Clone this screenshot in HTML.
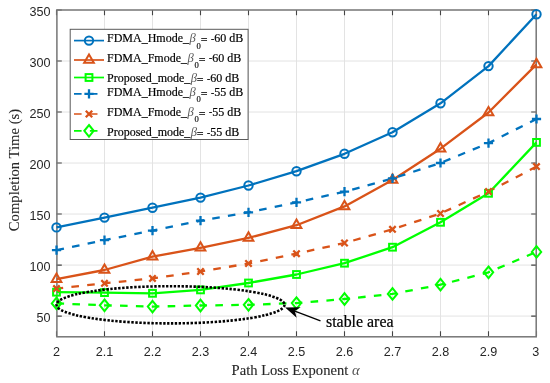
<!DOCTYPE html>
<html><head><meta charset="utf-8"><style>html,body{margin:0;padding:0;background:#fff;}svg{display:block}</style></head>
<body><svg width="550" height="383" viewBox="0 0 550 383"><path d="M104.50 10.0V336.5M152.50 10.0V336.5M200.50 10.0V336.5M248.50 10.0V336.5M296.50 10.0V336.5M344.50 10.0V336.5M392.50 10.0V336.5M440.50 10.0V336.5M488.50 10.0V336.5M56.5 316.09H536.5M56.5 265.08H536.5M56.5 214.06H536.5M56.5 163.05H536.5M56.5 112.03H536.5M56.5 61.02H536.5" stroke="#e3e3e3" stroke-width="1" fill="none"/>
<path d="M56.50 336.5V331.2M56.50 10.0V15.3M104.50 336.5V331.2M104.50 10.0V15.3M152.50 336.5V331.2M152.50 10.0V15.3M200.50 336.5V331.2M200.50 10.0V15.3M248.50 336.5V331.2M248.50 10.0V15.3M296.50 336.5V331.2M296.50 10.0V15.3M344.50 336.5V331.2M344.50 10.0V15.3M392.50 336.5V331.2M392.50 10.0V15.3M440.50 336.5V331.2M440.50 10.0V15.3M488.50 336.5V331.2M488.50 10.0V15.3M536.50 336.5V331.2M536.50 10.0V15.3M56.5 316.09H61.8M536.5 316.09H531.2M56.5 265.08H61.8M536.5 265.08H531.2M56.5 214.06H61.8M536.5 214.06H531.2M56.5 163.05H61.8M536.5 163.05H531.2M56.5 112.03H61.8M536.5 112.03H531.2M56.5 61.02H61.8M536.5 61.02H531.2M56.5 10.00H61.8M536.5 10.00H531.2" stroke="#444" stroke-width="1.1" fill="none"/>
<rect x="56.9" y="10.0" width="479.3" height="326.8" fill="none" stroke="#767676" stroke-width="1.5"/>
<polyline points="56.50,227.40 104.50,217.60 152.50,207.70 200.50,197.60 248.50,185.50 296.50,171.20 344.50,153.80 392.50,132.20 440.50,103.30 488.50,66.10 536.50,14.20" fill="none" stroke="#0072BD" stroke-width="2.3" stroke-linejoin="round"/>
<polyline points="56.50,279.20 104.50,270.00 152.50,256.70 200.50,247.80 248.50,237.90 296.50,225.20 344.50,206.40 392.50,180.00 440.50,148.70 488.50,112.50 536.50,64.40" fill="none" stroke="#D95319" stroke-width="2.3" stroke-linejoin="round"/>
<polyline points="56.50,292.20 104.50,292.60 152.50,293.30 200.50,289.90 248.50,283.00 296.50,274.50 344.50,263.20 392.50,247.20 440.50,222.30 488.50,193.30 536.50,142.40" fill="none" stroke="#00FF00" stroke-width="2.3" stroke-linejoin="round"/>
<polyline points="56.50,250.10 104.50,240.10 152.50,230.60 200.50,220.70 248.50,212.30 296.50,202.40 344.50,191.70 392.50,178.40 440.50,163.00 488.50,143.10 536.50,119.00" fill="none" stroke="#0072BD" stroke-width="2.3" stroke-dasharray="7.6 8.29" stroke-linejoin="round"/>
<polyline points="56.50,288.60 104.50,283.30 152.50,278.40 200.50,271.50 248.50,263.50 296.50,253.70 344.50,243.00 392.50,229.30 440.50,213.50 488.50,191.60 536.50,166.60" fill="none" stroke="#D95319" stroke-width="2.3" stroke-dasharray="7.6 8.29" stroke-dashoffset="0.9" stroke-linejoin="round"/>
<polyline points="56.50,303.40 104.50,305.30 152.50,306.60 200.50,305.50 248.50,304.80 296.50,303.10 344.50,299.00 392.50,293.90 440.50,284.70 488.50,272.30 536.50,251.90" fill="none" stroke="#00FF00" stroke-width="2.3" stroke-dasharray="7.6 8.29" stroke-linejoin="round"/>
<circle cx="56.50" cy="227.40" r="4.2" fill="none" stroke="#0072BD" stroke-width="2.0"/>
<circle cx="104.50" cy="217.60" r="4.2" fill="none" stroke="#0072BD" stroke-width="2.0"/>
<circle cx="152.50" cy="207.70" r="4.2" fill="none" stroke="#0072BD" stroke-width="2.0"/>
<circle cx="200.50" cy="197.60" r="4.2" fill="none" stroke="#0072BD" stroke-width="2.0"/>
<circle cx="248.50" cy="185.50" r="4.2" fill="none" stroke="#0072BD" stroke-width="2.0"/>
<circle cx="296.50" cy="171.20" r="4.2" fill="none" stroke="#0072BD" stroke-width="2.0"/>
<circle cx="344.50" cy="153.80" r="4.2" fill="none" stroke="#0072BD" stroke-width="2.0"/>
<circle cx="392.50" cy="132.20" r="4.2" fill="none" stroke="#0072BD" stroke-width="2.0"/>
<circle cx="440.50" cy="103.30" r="4.2" fill="none" stroke="#0072BD" stroke-width="2.0"/>
<circle cx="488.50" cy="66.10" r="4.2" fill="none" stroke="#0072BD" stroke-width="2.0"/>
<circle cx="536.50" cy="14.20" r="4.2" fill="none" stroke="#0072BD" stroke-width="2.0"/>
<polygon points="56.50,273.60 51.65,282.00 61.35,282.00" fill="none" stroke="#D95319" stroke-width="2.0" stroke-linejoin="miter"/>
<polygon points="104.50,264.40 99.65,272.80 109.35,272.80" fill="none" stroke="#D95319" stroke-width="2.0" stroke-linejoin="miter"/>
<polygon points="152.50,251.10 147.65,259.50 157.35,259.50" fill="none" stroke="#D95319" stroke-width="2.0" stroke-linejoin="miter"/>
<polygon points="200.50,242.20 195.65,250.60 205.35,250.60" fill="none" stroke="#D95319" stroke-width="2.0" stroke-linejoin="miter"/>
<polygon points="248.50,232.30 243.65,240.70 253.35,240.70" fill="none" stroke="#D95319" stroke-width="2.0" stroke-linejoin="miter"/>
<polygon points="296.50,219.60 291.65,228.00 301.35,228.00" fill="none" stroke="#D95319" stroke-width="2.0" stroke-linejoin="miter"/>
<polygon points="344.50,200.80 339.65,209.20 349.35,209.20" fill="none" stroke="#D95319" stroke-width="2.0" stroke-linejoin="miter"/>
<polygon points="392.50,174.40 387.65,182.80 397.35,182.80" fill="none" stroke="#D95319" stroke-width="2.0" stroke-linejoin="miter"/>
<polygon points="440.50,143.10 435.65,151.50 445.35,151.50" fill="none" stroke="#D95319" stroke-width="2.0" stroke-linejoin="miter"/>
<polygon points="488.50,106.90 483.65,115.30 493.35,115.30" fill="none" stroke="#D95319" stroke-width="2.0" stroke-linejoin="miter"/>
<polygon points="536.50,58.80 531.65,67.20 541.35,67.20" fill="none" stroke="#D95319" stroke-width="2.0" stroke-linejoin="miter"/>
<rect x="53.10" y="288.80" width="6.8" height="6.8" fill="none" stroke="#00FF00" stroke-width="2.0"/>
<rect x="101.10" y="289.20" width="6.8" height="6.8" fill="none" stroke="#00FF00" stroke-width="2.0"/>
<rect x="149.10" y="289.90" width="6.8" height="6.8" fill="none" stroke="#00FF00" stroke-width="2.0"/>
<rect x="197.10" y="286.50" width="6.8" height="6.8" fill="none" stroke="#00FF00" stroke-width="2.0"/>
<rect x="245.10" y="279.60" width="6.8" height="6.8" fill="none" stroke="#00FF00" stroke-width="2.0"/>
<rect x="293.10" y="271.10" width="6.8" height="6.8" fill="none" stroke="#00FF00" stroke-width="2.0"/>
<rect x="341.10" y="259.80" width="6.8" height="6.8" fill="none" stroke="#00FF00" stroke-width="2.0"/>
<rect x="389.10" y="243.80" width="6.8" height="6.8" fill="none" stroke="#00FF00" stroke-width="2.0"/>
<rect x="437.10" y="218.90" width="6.8" height="6.8" fill="none" stroke="#00FF00" stroke-width="2.0"/>
<rect x="485.10" y="189.90" width="6.8" height="6.8" fill="none" stroke="#00FF00" stroke-width="2.0"/>
<rect x="533.10" y="139.00" width="6.8" height="6.8" fill="none" stroke="#00FF00" stroke-width="2.0"/>
<path d="M51.90 250.10H61.10M56.50 245.50V254.70" stroke="#0072BD" stroke-width="2.3" fill="none"/>
<path d="M99.90 240.10H109.10M104.50 235.50V244.70" stroke="#0072BD" stroke-width="2.3" fill="none"/>
<path d="M147.90 230.60H157.10M152.50 226.00V235.20" stroke="#0072BD" stroke-width="2.3" fill="none"/>
<path d="M195.90 220.70H205.10M200.50 216.10V225.30" stroke="#0072BD" stroke-width="2.3" fill="none"/>
<path d="M243.90 212.30H253.10M248.50 207.70V216.90" stroke="#0072BD" stroke-width="2.3" fill="none"/>
<path d="M291.90 202.40H301.10M296.50 197.80V207.00" stroke="#0072BD" stroke-width="2.3" fill="none"/>
<path d="M339.90 191.70H349.10M344.50 187.10V196.30" stroke="#0072BD" stroke-width="2.3" fill="none"/>
<path d="M387.90 178.40H397.10M392.50 173.80V183.00" stroke="#0072BD" stroke-width="2.3" fill="none"/>
<path d="M435.90 163.00H445.10M440.50 158.40V167.60" stroke="#0072BD" stroke-width="2.3" fill="none"/>
<path d="M483.90 143.10H493.10M488.50 138.50V147.70" stroke="#0072BD" stroke-width="2.3" fill="none"/>
<path d="M531.90 119.00H541.10M536.50 114.40V123.60" stroke="#0072BD" stroke-width="2.3" fill="none"/>
<path d="M53.30 285.40L59.70 291.80M53.30 291.80L59.70 285.40" stroke="#D95319" stroke-width="2.3" fill="none"/>
<path d="M101.30 280.10L107.70 286.50M101.30 286.50L107.70 280.10" stroke="#D95319" stroke-width="2.3" fill="none"/>
<path d="M149.30 275.20L155.70 281.60M149.30 281.60L155.70 275.20" stroke="#D95319" stroke-width="2.3" fill="none"/>
<path d="M197.30 268.30L203.70 274.70M197.30 274.70L203.70 268.30" stroke="#D95319" stroke-width="2.3" fill="none"/>
<path d="M245.30 260.30L251.70 266.70M245.30 266.70L251.70 260.30" stroke="#D95319" stroke-width="2.3" fill="none"/>
<path d="M293.30 250.50L299.70 256.90M293.30 256.90L299.70 250.50" stroke="#D95319" stroke-width="2.3" fill="none"/>
<path d="M341.30 239.80L347.70 246.20M341.30 246.20L347.70 239.80" stroke="#D95319" stroke-width="2.3" fill="none"/>
<path d="M389.30 226.10L395.70 232.50M389.30 232.50L395.70 226.10" stroke="#D95319" stroke-width="2.3" fill="none"/>
<path d="M437.30 210.30L443.70 216.70M437.30 216.70L443.70 210.30" stroke="#D95319" stroke-width="2.3" fill="none"/>
<path d="M485.30 188.40L491.70 194.80M485.30 194.80L491.70 188.40" stroke="#D95319" stroke-width="2.3" fill="none"/>
<path d="M533.30 163.40L539.70 169.80M533.30 169.80L539.70 163.40" stroke="#D95319" stroke-width="2.3" fill="none"/>
<polygon points="56.50,297.60 61.20,303.40 56.50,309.20 51.80,303.40" fill="none" stroke="#00FF00" stroke-width="2.0"/>
<polygon points="104.50,299.50 109.20,305.30 104.50,311.10 99.80,305.30" fill="none" stroke="#00FF00" stroke-width="2.0"/>
<polygon points="152.50,300.80 157.20,306.60 152.50,312.40 147.80,306.60" fill="none" stroke="#00FF00" stroke-width="2.0"/>
<polygon points="200.50,299.70 205.20,305.50 200.50,311.30 195.80,305.50" fill="none" stroke="#00FF00" stroke-width="2.0"/>
<polygon points="248.50,299.00 253.20,304.80 248.50,310.60 243.80,304.80" fill="none" stroke="#00FF00" stroke-width="2.0"/>
<polygon points="296.50,297.30 301.20,303.10 296.50,308.90 291.80,303.10" fill="none" stroke="#00FF00" stroke-width="2.0"/>
<polygon points="344.50,293.20 349.20,299.00 344.50,304.80 339.80,299.00" fill="none" stroke="#00FF00" stroke-width="2.0"/>
<polygon points="392.50,288.10 397.20,293.90 392.50,299.70 387.80,293.90" fill="none" stroke="#00FF00" stroke-width="2.0"/>
<polygon points="440.50,278.90 445.20,284.70 440.50,290.50 435.80,284.70" fill="none" stroke="#00FF00" stroke-width="2.0"/>
<polygon points="488.50,266.50 493.20,272.30 488.50,278.10 483.80,272.30" fill="none" stroke="#00FF00" stroke-width="2.0"/>
<polygon points="536.50,246.10 541.20,251.90 536.50,257.70 531.80,251.90" fill="none" stroke="#00FF00" stroke-width="2.0"/>
<text x="56.50" y="355.6" text-anchor="middle" font-family="Liberation Sans, Arial, sans-serif" font-size="12.6" fill="#262626">2</text>
<text x="104.50" y="355.6" text-anchor="middle" font-family="Liberation Sans, Arial, sans-serif" font-size="12.6" fill="#262626">2.1</text>
<text x="152.50" y="355.6" text-anchor="middle" font-family="Liberation Sans, Arial, sans-serif" font-size="12.6" fill="#262626">2.2</text>
<text x="200.50" y="355.6" text-anchor="middle" font-family="Liberation Sans, Arial, sans-serif" font-size="12.6" fill="#262626">2.3</text>
<text x="248.50" y="355.6" text-anchor="middle" font-family="Liberation Sans, Arial, sans-serif" font-size="12.6" fill="#262626">2.4</text>
<text x="296.50" y="355.6" text-anchor="middle" font-family="Liberation Sans, Arial, sans-serif" font-size="12.6" fill="#262626">2.5</text>
<text x="344.50" y="355.6" text-anchor="middle" font-family="Liberation Sans, Arial, sans-serif" font-size="12.6" fill="#262626">2.6</text>
<text x="392.50" y="355.6" text-anchor="middle" font-family="Liberation Sans, Arial, sans-serif" font-size="12.6" fill="#262626">2.7</text>
<text x="440.50" y="355.6" text-anchor="middle" font-family="Liberation Sans, Arial, sans-serif" font-size="12.6" fill="#262626">2.8</text>
<text x="488.50" y="355.6" text-anchor="middle" font-family="Liberation Sans, Arial, sans-serif" font-size="12.6" fill="#262626">2.9</text>
<text x="535.80" y="355.6" text-anchor="middle" font-family="Liberation Sans, Arial, sans-serif" font-size="12.6" fill="#262626">3</text>
<text x="50.6" y="321.79" text-anchor="end" font-family="Liberation Sans, Arial, sans-serif" font-size="12.6" fill="#262626">50</text>
<text x="50.6" y="270.78" text-anchor="end" font-family="Liberation Sans, Arial, sans-serif" font-size="12.6" fill="#262626">100</text>
<text x="50.6" y="219.76" text-anchor="end" font-family="Liberation Sans, Arial, sans-serif" font-size="12.6" fill="#262626">150</text>
<text x="50.6" y="168.75" text-anchor="end" font-family="Liberation Sans, Arial, sans-serif" font-size="12.6" fill="#262626">200</text>
<text x="50.6" y="117.73" text-anchor="end" font-family="Liberation Sans, Arial, sans-serif" font-size="12.6" fill="#262626">250</text>
<text x="50.6" y="66.72" text-anchor="end" font-family="Liberation Sans, Arial, sans-serif" font-size="12.6" fill="#262626">300</text>
<text x="50.6" y="15.70" text-anchor="end" font-family="Liberation Sans, Arial, sans-serif" font-size="12.6" fill="#262626">350</text>
<ellipse cx="170.5" cy="304.8" rx="114" ry="18.6" fill="none" stroke="#000" stroke-width="2.6" stroke-dasharray="2.4 1.57"/>
<line x1="320.5" y1="320.9" x2="294.85" y2="311.12" stroke="#000" stroke-width="1.3"/>
<polygon points="285.10,307.40 300.64,307.33 294.85,311.12 296.65,317.80" fill="#000"/>
<text x="326" y="326.6" font-family="Liberation Serif, Times New Roman, serif" font-size="15.9" fill="#000" stroke="#000" stroke-width="0.2">stable area</text>
<text x="295.6" y="375.2" text-anchor="middle" font-family="Liberation Serif, Times New Roman, serif" font-size="14.6" fill="#262626" stroke="#262626" stroke-width="0.1">Path Loss Exponent <tspan font-style="italic" fill="#555" stroke="none">α</tspan></text>
<text transform="translate(18.8,170) rotate(-90)" text-anchor="middle" font-family="Liberation Serif, Times New Roman, serif" font-size="14.7" fill="#262626" stroke="#262626" stroke-width="0.08">Completion Time (s)</text>
<rect x="70.2" y="29.3" width="177.9" height="110.2" fill="#fff" stroke="#5a5a5a" stroke-width="1"/>
<line x1="74" y1="40.6" x2="104" y2="40.6" stroke="#0072BD" stroke-width="1.7"/>
<circle cx="89.00" cy="40.60" r="4.2" fill="none" stroke="#0072BD" stroke-width="2.0"/>
<text x="107.0" y="42.30" font-family="Liberation Serif, Times New Roman, serif" font-size="12.0" fill="#000" stroke="#000" stroke-width="0.18">FDMA_Hmode_</text><text x="189.50" y="42.30" font-family="Liberation Serif, Times New Roman, serif" font-size="12.6" font-style="italic" fill="#5a5a5a">β</text><text x="196.40" y="48.70" font-family="Liberation Serif, Times New Roman, serif" font-size="8.6" fill="#000" stroke="#000" stroke-width="0.15">0</text><text x="200.80" y="44.20" font-family="Liberation Serif, Times New Roman, serif" font-size="12.0" fill="#000" stroke="#000" stroke-width="0.18">=</text><text x="211.00" y="41.90" font-family="Liberation Serif, Times New Roman, serif" font-size="9.5" fill="#000" stroke="#000" stroke-width="0.18">-</text><text x="214.30" y="42.30" font-family="Liberation Serif, Times New Roman, serif" font-size="12.0" fill="#000" stroke="#000" stroke-width="0.18">60 dB</text>
<line x1="74" y1="60.0" x2="104" y2="60.0" stroke="#D95319" stroke-width="1.7"/>
<polygon points="89.00,54.40 84.15,62.80 93.85,62.80" fill="none" stroke="#D95319" stroke-width="2.0" stroke-linejoin="miter"/>
<text x="107.0" y="61.60" font-family="Liberation Serif, Times New Roman, serif" font-size="12.0" fill="#000" stroke="#000" stroke-width="0.18">FDMA_Fmode_</text><text x="187.52" y="61.60" font-family="Liberation Serif, Times New Roman, serif" font-size="12.6" font-style="italic" fill="#5a5a5a">β</text><text x="194.42" y="68.00" font-family="Liberation Serif, Times New Roman, serif" font-size="8.6" fill="#000" stroke="#000" stroke-width="0.15">0</text><text x="198.82" y="63.50" font-family="Liberation Serif, Times New Roman, serif" font-size="12.0" fill="#000" stroke="#000" stroke-width="0.18">=</text><text x="209.02" y="61.20" font-family="Liberation Serif, Times New Roman, serif" font-size="9.5" fill="#000" stroke="#000" stroke-width="0.18">-</text><text x="212.32" y="61.60" font-family="Liberation Serif, Times New Roman, serif" font-size="12.0" fill="#000" stroke="#000" stroke-width="0.18">60 dB</text>
<line x1="74" y1="77.5" x2="104" y2="77.5" stroke="#00FF00" stroke-width="1.7"/>
<rect x="85.60" y="74.10" width="6.8" height="6.8" fill="none" stroke="#00FF00" stroke-width="2.0"/>
<text x="107.0" y="82.30" font-family="Liberation Serif, Times New Roman, serif" font-size="12.0" fill="#000" stroke="#000" stroke-width="0.18">Proposed_mode_</text><text x="190.83" y="82.30" font-family="Liberation Serif, Times New Roman, serif" font-size="12.6" font-style="italic" fill="#5a5a5a">β</text><text x="196.73" y="84.20" font-family="Liberation Serif, Times New Roman, serif" font-size="12.0" fill="#000" stroke="#000" stroke-width="0.18">=</text><text x="206.93" y="81.90" font-family="Liberation Serif, Times New Roman, serif" font-size="9.5" fill="#000" stroke="#000" stroke-width="0.18">-</text><text x="210.23" y="82.30" font-family="Liberation Serif, Times New Roman, serif" font-size="12.0" fill="#000" stroke="#000" stroke-width="0.18">60 dB</text>
<line x1="74" y1="93.9" x2="104" y2="93.9" stroke="#0072BD" stroke-width="1.7" stroke-dasharray="7.6 8.29"/>
<path d="M84.40 93.90H93.60M89.00 89.30V98.50" stroke="#0072BD" stroke-width="2.3" fill="none"/>
<text x="107.0" y="95.90" font-family="Liberation Serif, Times New Roman, serif" font-size="12.0" fill="#000" stroke="#000" stroke-width="0.18">FDMA_Hmode_</text><text x="189.50" y="95.90" font-family="Liberation Serif, Times New Roman, serif" font-size="12.6" font-style="italic" fill="#5a5a5a">β</text><text x="196.40" y="102.30" font-family="Liberation Serif, Times New Roman, serif" font-size="8.6" fill="#000" stroke="#000" stroke-width="0.15">0</text><text x="200.80" y="97.80" font-family="Liberation Serif, Times New Roman, serif" font-size="12.0" fill="#000" stroke="#000" stroke-width="0.18">=</text><text x="211.00" y="95.50" font-family="Liberation Serif, Times New Roman, serif" font-size="9.5" fill="#000" stroke="#000" stroke-width="0.18">-</text><text x="214.30" y="95.90" font-family="Liberation Serif, Times New Roman, serif" font-size="12.0" fill="#000" stroke="#000" stroke-width="0.18">55 dB</text>
<line x1="74" y1="114.0" x2="104" y2="114.0" stroke="#D95319" stroke-width="1.7" stroke-dasharray="7.6 8.29"/>
<path d="M85.80 110.80L92.20 117.20M85.80 117.20L92.20 110.80" stroke="#D95319" stroke-width="2.3" fill="none"/>
<text x="107.0" y="115.80" font-family="Liberation Serif, Times New Roman, serif" font-size="12.0" fill="#000" stroke="#000" stroke-width="0.18">FDMA_Fmode_</text><text x="187.52" y="115.80" font-family="Liberation Serif, Times New Roman, serif" font-size="12.6" font-style="italic" fill="#5a5a5a">β</text><text x="194.42" y="122.20" font-family="Liberation Serif, Times New Roman, serif" font-size="8.6" fill="#000" stroke="#000" stroke-width="0.15">0</text><text x="198.82" y="117.70" font-family="Liberation Serif, Times New Roman, serif" font-size="12.0" fill="#000" stroke="#000" stroke-width="0.18">=</text><text x="209.02" y="115.40" font-family="Liberation Serif, Times New Roman, serif" font-size="9.5" fill="#000" stroke="#000" stroke-width="0.18">-</text><text x="212.32" y="115.80" font-family="Liberation Serif, Times New Roman, serif" font-size="12.0" fill="#000" stroke="#000" stroke-width="0.18">55 dB</text>
<line x1="74" y1="130.8" x2="104" y2="130.8" stroke="#00FF00" stroke-width="1.7" stroke-dasharray="7.6 8.29"/>
<polygon points="89.00,125.00 93.70,130.80 89.00,136.60 84.30,130.80" fill="none" stroke="#00FF00" stroke-width="2.0"/>
<text x="107.0" y="136.00" font-family="Liberation Serif, Times New Roman, serif" font-size="12.0" fill="#000" stroke="#000" stroke-width="0.18">Proposed_mode_</text><text x="190.83" y="136.00" font-family="Liberation Serif, Times New Roman, serif" font-size="12.6" font-style="italic" fill="#5a5a5a">β</text><text x="196.73" y="137.90" font-family="Liberation Serif, Times New Roman, serif" font-size="12.0" fill="#000" stroke="#000" stroke-width="0.18">=</text><text x="206.93" y="135.60" font-family="Liberation Serif, Times New Roman, serif" font-size="9.5" fill="#000" stroke="#000" stroke-width="0.18">-</text><text x="210.23" y="136.00" font-family="Liberation Serif, Times New Roman, serif" font-size="12.0" fill="#000" stroke="#000" stroke-width="0.18">55 dB</text></svg></body></html>
